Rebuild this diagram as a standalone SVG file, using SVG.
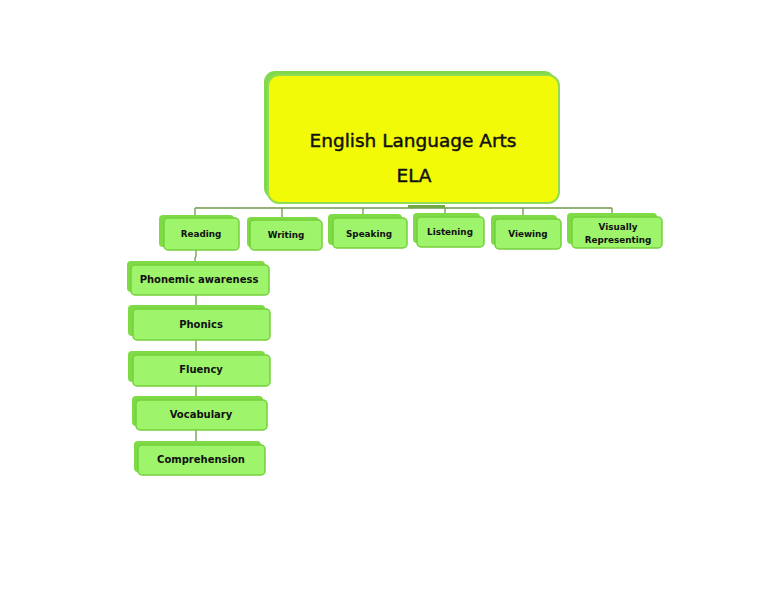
<svg xmlns="http://www.w3.org/2000/svg" width="768" height="594" viewBox="0 0 768 594">
<style>
.back{fill:#7edb45}
.front{fill:#9ef46b;stroke:#74d03d;stroke-width:1.5}
.mback{fill:#7fd94a}
.mfront{fill:#f3fa07;stroke:#8fdc57;stroke-width:2}
.conn{stroke:#6f9a48;stroke-width:1.3;fill:none}
.t{font-family:"DejaVu Sans",Verdana,sans-serif;font-weight:bold;fill:#111;text-anchor:middle}
.s{font-size:8.8px}
.c{font-size:10px}
.m{font-family:"DejaVu Sans",Verdana,sans-serif;font-size:18.5px;fill:#111;stroke:#111;stroke-width:0.45;text-anchor:middle}
</style>
<rect width="768" height="594" fill="#ffffff"/>
<g id="connectors">
<path class="conn" d="M195 208 H612 M195 208 V215 M282 208 V217 M363 208 V214 M445 208 V213 M523 208 V215 M612 208 V213"/>
<rect x="408" y="205" width="37" height="3" fill="#72a845"/>
<path class="conn" d="M196 250 L196 256 L195 258 L195 261 M196 295 V305 M196 340 V351 M196 386 V396 M196 430 V441"/>
</g>
<g id="ela">
<rect class="mback" x="264" y="71" width="291" height="128" rx="11"/>
<rect class="mfront" x="268" y="75" width="291" height="128" rx="11"/>
<text class="m" x="413" y="147">English Language Arts</text>
<text class="m" x="414" y="182">ELA</text>
</g>
<g id="reading">
<rect class="back" x="159" y="215" width="75" height="32" rx="4"/>
<rect class="front" x="164" y="218" width="75" height="32" rx="4"/>
<text class="t s" x="201" y="237">Reading</text>
</g>
<g id="writing">
<rect class="back" x="247" y="217" width="72" height="30" rx="4"/>
<rect class="front" x="250" y="220" width="72" height="30" rx="4"/>
<text class="t s" x="286" y="238">Writing</text>
</g>
<g id="speaking">
<rect class="back" x="328" y="214" width="74" height="31" rx="4"/>
<rect class="front" x="333" y="218" width="74" height="30" rx="4"/>
<text class="t s" x="369" y="236.5">Speaking</text>
</g>
<g id="listening">
<rect class="back" x="413" y="213" width="67" height="30" rx="4"/>
<rect class="front" x="417" y="217" width="67" height="30" rx="4"/>
<text class="t s" x="450" y="235">Listening</text>
</g>
<g id="viewing">
<rect class="back" x="491" y="215" width="66" height="30" rx="4"/>
<rect class="front" x="495" y="219" width="66" height="30" rx="4"/>
<text class="t s" x="528" y="237">Viewing</text>
</g>
<g id="visually">
<rect class="back" x="567" y="213" width="90" height="31" rx="4"/>
<rect class="front" x="572" y="217" width="90" height="31" rx="4"/>
<text class="t s" x="618" y="230">Visually</text>
<text class="t s" x="618" y="243">Representing</text>
</g>
<g id="phonemic">
<rect class="back" x="127" y="261" width="138" height="31" rx="4"/>
<rect class="front" x="131" y="265" width="138" height="30" rx="4"/>
<text class="t c" x="199" y="283">Phonemic awareness</text>
</g>
<g id="phonics">
<rect class="back" x="128" y="305" width="137" height="31" rx="4"/>
<rect class="front" x="133" y="309" width="137" height="31" rx="4"/>
<text class="t c" x="201" y="328">Phonics</text>
</g>
<g id="fluency">
<rect class="back" x="128" y="351" width="137" height="31" rx="4"/>
<rect class="front" x="133" y="355" width="137" height="31" rx="4"/>
<text class="t c" x="201" y="373">Fluency</text>
</g>
<g id="vocabulary">
<rect class="back" x="132" y="396" width="131" height="30" rx="4"/>
<rect class="front" x="136" y="400" width="131" height="30" rx="4"/>
<text class="t c" x="201" y="418">Vocabulary</text>
</g>
<g id="comprehension">
<rect class="back" x="134" y="441" width="127" height="31" rx="4"/>
<rect class="front" x="138" y="445" width="127" height="30" rx="4"/>
<text class="t c" x="201" y="463">Comprehension</text>
</g>
</svg>
